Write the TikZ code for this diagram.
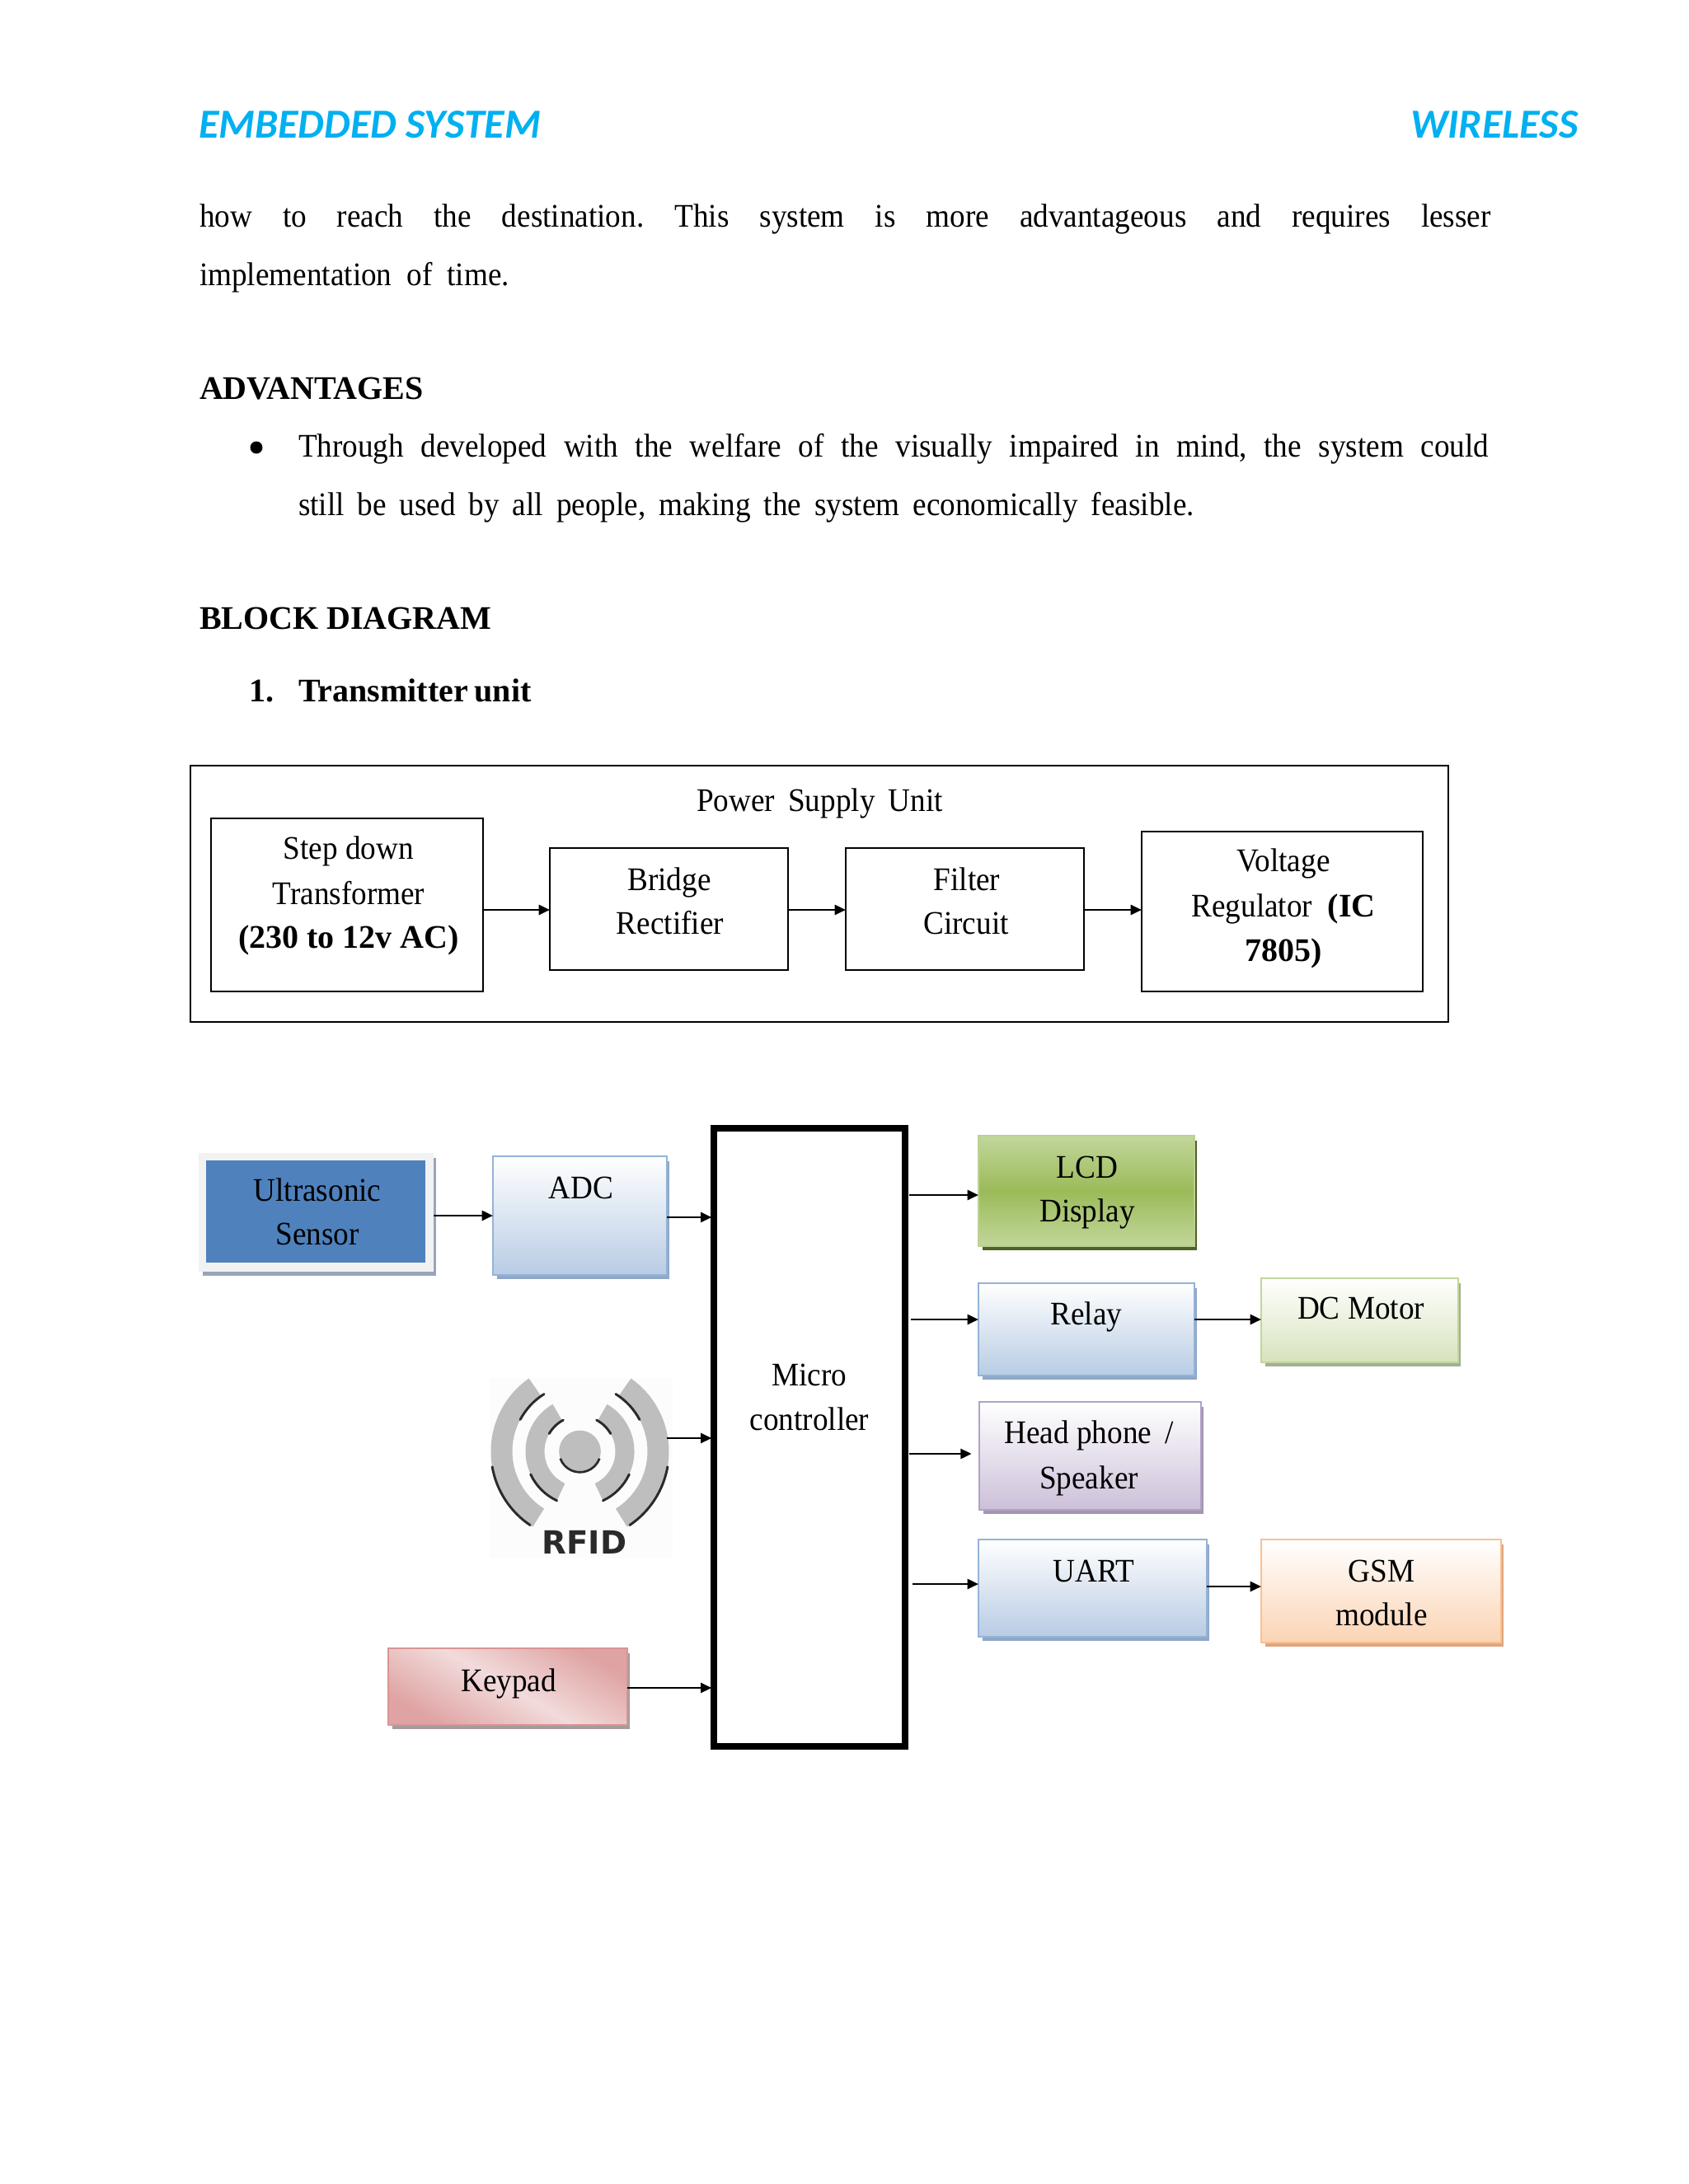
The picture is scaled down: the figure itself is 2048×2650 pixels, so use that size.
\documentclass[tikz,border=0pt]{standalone}
\usepackage{fontspec}
\setmainfont[FakeStretch=0.93,BoldFeatures={FakeStretch=1.0}]{Liberation Serif}
\newfontfamily\hdrfont{Carlito}
\newfontfamily\rfidfont{DejaVu Sans}
\usetikzlibrary{arrows.meta}
\definecolor{hdrcyan}{HTML}{00B0F0}
\definecolor{bluedraw}{HTML}{95B3D7}
\definecolor{bluefill}{HTML}{B8CCE4}
\definecolor{blueshadow}{HTML}{8FA8C8}
\definecolor{sensorblue}{HTML}{4F81BD}
\definecolor{sensorpad}{HTML}{F2F2F2}
\definecolor{sensorshadow}{HTML}{98A5BA}
\definecolor{greenlight}{HTML}{C2D69B}
\definecolor{greenmid}{HTML}{9BBB59}
\definecolor{greenshadow}{HTML}{4F6228}
\definecolor{palegreen}{HTML}{D6E3BC}
\definecolor{palegreenshadow}{HTML}{A3AF92}
\definecolor{violetdraw}{HTML}{B2A1C7}
\definecolor{violetfill}{HTML}{CCC0D9}
\definecolor{violetshadow}{HTML}{A296B2}
\definecolor{orangedraw}{HTML}{FAC090}
\definecolor{orangefill}{HTML}{FBD4B4}
\definecolor{orangeshadow}{HTML}{DDA67E}
\definecolor{pinkdraw}{HTML}{D99594}
\definecolor{pinklight}{HTML}{F2DBDB}
\definecolor{pinkdark}{HTML}{DFA3A3}
\definecolor{pinkshadow}{HTML}{A79A9A}
\definecolor{rfidgray}{HTML}{BEBEBE}
\definecolor{rfiddark}{HTML}{2A2A2A}
\definecolor{rfidbg}{HTML}{FCFCFC}
\tikzset{
  txt/.style={inner sep=0pt,outer sep=0pt,anchor=base,font=\fontsize{30}{36}\selectfont},
  txtw/.style={txt,anchor=base west},
  hdr/.style={inner sep=0pt,outer sep=0pt,anchor=base west,text=hdrcyan,font=\hdrfont\bfseries\itshape\fontsize{37.6}{44}\selectfont},
  plain/.style={draw=black,line width=1.9pt,fill=white},
  frame/.style={draw=black,line width=1.9pt},
  micro/.style={draw=black,line width=6.4pt,fill=white},
  bluebox/.style={draw=bluedraw,line width=2pt,top color=white,bottom color=bluefill},
  lcdbox/.style={draw=greenlight!85!greenmid,line width=2pt,top color=greenlight,bottom color=greenlight,middle color=greenmid},
  dcbox/.style={draw=greenlight,line width=2pt,top color=white,bottom color=palegreen},
  headbox/.style={draw=violetdraw,line width=2pt,top color=white,bottom color=violetfill},
  gsmbox/.style={draw=orangedraw,line width=2pt,top color=white,bottom color=orangefill},
  keybox/.style={draw=pinkdraw,line width=2pt,left color=pinkdark,right color=pinkdark,middle color=pinklight,shading angle=-30},
  conn/.style={draw=black,line width=2pt,-{Triangle[length=10pt,width=9pt]}},
}
% name, x0, y0, x1, y1 in pixels; optional style
\newcommand{\pxbox}[6][]{%
  \pgfmathsetmacro\boxw{(#5-#3)*0.75}%
  \pgfmathsetmacro\boxh{(#6-#4)*0.75}%
  \node[#1,inner sep=0pt,outer sep=0pt,anchor=north west,minimum width=\boxw pt,minimum height=\boxh pt] (#2) at (#3,#4) {};%
}
% shadow: x0,y0,x1,y1,colour
\newcommand{\pxshadow}[5]{\fill[#5] (#1+5,#2+6) rectangle (#3+3,#4+5);}
% annular sector: start,end,inner,outer radius in px
\newcommand{\rfidsector}[4]{%
  \pgfmathsetmacro\ro{#4*0.75}\pgfmathsetmacro\ri{#3*0.75}%
  \fill[rfidgray] ([shift={(#1:\ro pt)}]rfidc) arc[start angle=#1,end angle=#2,radius=\ro pt]
    -- ([shift={(#2:\ri pt)}]rfidc) arc[start angle=#2,end angle=#1,radius=\ri pt] -- cycle;%
}
\newcommand{\rfidedge}[3]{%
  \pgfmathsetmacro\rr{#3*0.75}%
  \draw[rfiddark,line width=2.2pt,line cap=round] ([shift={(#1:\rr pt)}]rfidc) arc[start angle=#1,end angle=#2,radius=\rr pt];%
}
\begin{document}
\frenchspacing
\begin{tikzpicture}[x=0.75pt,y=-0.75pt]
\useasboundingbox (0,0) rectangle (2048,2650);
% page text
\node[hdr] (h1) at (241,168) {EMBEDDED SYSTEM};
\node[hdr] (h2) at (1711,168) {WIRELESS};
\node[txtw] (l1) at (242,276) {\makebox[1175pt][s]{how to reach the destination. This system is more advantageous and requires lesser}};
\node[txtw] (l2) at (242,347) {\makebox[282pt][s]{implementation of time.}};
\node[txtw] (adv) at (242,484) {\textbf{ADVANTAGES}};
\fill (311,543) circle[radius=5.6pt];
\node[txtw] (l3) at (362,554) {\makebox[1083pt][s]{Through developed with the welfare of the visually impaired in mind, the system could}};
\node[txtw] (l4) at (362,625) {\makebox[815pt][s]{still be used by all people, making the system economically feasible.}};
\node[txtw] (blk) at (242,763) {\textbf{BLOCK DIAGRAM}};
\node[txtw] (num) at (302,851) {\textbf{1.}};
\node[txtw] (tu) at (362,851) {\makebox[212pt][s]{\bfseries\addfontfeature{FakeStretch=0.96}Transmitter unit}};
% power supply
\pxbox[frame]{psu}{231}{929}{1757}{1240}
\pxbox[plain]{step}{256}{993}{586}{1203}
\pxbox[plain]{bridge}{667}{1029}{956}{1177}
\pxbox[plain]{filter}{1026}{1029}{1315}{1177}
\pxbox[plain]{volt}{1385}{1009}{1726}{1203}
\coordinate (yp) at (0,1104);
\draw[conn] (step.east |- yp) -- (bridge.west |- yp);
\draw[conn] (bridge.east |- yp) -- (filter.west |- yp);
\draw[conn] (filter.east |- yp) -- (volt.west |- yp);
\node[txt] (tp) at (994.5,984) {\makebox[224pt][s]{Power Supply Unit}};
\node[txt] (t1a) at (423,1042) {Step down};
\node[txt] (t1b) at (423,1097) {Transformer};
\node[txt] (t1c) at (423,1150) {\textbf{(230 to 12v AC)}};
\node[txt] (t2a) at (812,1080) {Bridge};
\node[txt] (t2b) at (813,1133) {Rectifier};
\node[txt] (t3a) at (1173,1080) {Filter};
\node[txt] (t3b) at (1172,1133) {Circuit};
\node[txt] (t4a) at (1557,1057) {Voltage};
\node[txt] (t4b) at (1557,1112) {Regulator \ \textbf{(IC}};
\node[txt] (t4c) at (1557,1166) {\textbf{7805)}};
% shadows
\pxshadow{241}{1399}{526}{1543}{sensorshadow}
\pxshadow{598}{1403}{809}{1547}{blueshadow}
\pxshadow{471}{2000}{761}{2093}{pinkshadow}
\pxshadow{1187}{1378}{1449}{1512}{greenshadow}
\pxshadow{1187}{1557}{1449}{1669}{blueshadow}
\pxshadow{1530}{1551}{1769}{1653}{palegreenshadow}
\pxshadow{1188}{1701}{1457}{1832}{violetshadow}
\pxshadow{1187}{1868}{1464}{1986}{blueshadow}
\pxshadow{1530}{1868}{1821}{1993}{orangeshadow}
% left side
\pxbox[fill=sensorpad]{ultrapad}{241}{1399}{526}{1543}
\pxbox[fill=sensorblue]{ultra}{250}{1408}{516}{1532}
\pxbox[bluebox]{adc}{598}{1403}{809}{1547}
\pxbox[fill=rfidbg]{rfid}{595}{1672}{816}{1891}
\pxbox[keybox]{key}{471}{2000}{761}{2093}
\pxbox[micro]{mcu}{866}{1369}{1098}{2119}
% right side
\pxbox[lcdbox]{lcd}{1187}{1378}{1449}{1512}
\pxbox[bluebox]{relay}{1187}{1557}{1449}{1669}
\pxbox[dcbox]{dc}{1530}{1551}{1769}{1653}
\pxbox[headbox]{head}{1188}{1701}{1457}{1832}
\pxbox[bluebox]{uart}{1187}{1868}{1464}{1986}
\pxbox[gsmbox]{gsm}{1530}{1868}{1821}{1993}
% rfid symbol
\coordinate (rfidc) at (703.5,1761);
\rfidsector{125}{238}{82}{108}
\rfidsector{-58}{55}{82}{108}
\rfidsector{120}{245}{43}{66}
\rfidsector{-65}{60}{43}{66}
\rfidedge{122}{152}{82}
\rfidedge{58}{28}{82}
\rfidedge{190}{236}{108}
\rfidedge{-10}{-56}{108}
\rfidedge{118}{150}{43}
\rfidedge{62}{30}{43}
\rfidedge{205}{245}{66}
\rfidedge{-25}{-65}{66}
\fill[rfidgray] (rfidc) circle[radius=19pt];
\draw[rfiddark,line width=2pt] ([shift={(200:19pt)}]rfidc) arc[start angle=200,end angle=340,radius=19pt];
\node[inner sep=0pt,outer sep=0pt,anchor=base,text=rfiddark,font=\rfidfont\bfseries\fontsize{29}{34}\selectfont] (rfidt) at (709,1885) {RFID};
% connectors
\coordinate (ya) at (0,1475);
\coordinate (yb) at (0,1477);
\coordinate (yc) at (0,1745);
\coordinate (yd) at (0,2048);
\coordinate (ye) at (0,1450);
\coordinate (yf) at (0,1601);
\coordinate (yg) at (0,1764);
\coordinate (yh) at (0,1922);
\coordinate (yi) at (0,1925);
\draw[conn] (ultrapad.east |- ya) -- (adc.west |- ya);
\draw[conn] (adc.east |- yb) -- ([xshift=-2pt]mcu.west |- yb);
\draw[conn,shorten <=-5pt] (rfid.east |- yc) -- ([xshift=-2pt]mcu.west |- yc);
\draw[conn] (key.east |- yd) -- ([xshift=-2pt]mcu.west |- yd);
\draw[conn] ([xshift=3.5pt]mcu.east |- ye) -- (lcd.west |- ye);
\draw[conn] ([xshift=5pt]mcu.east |- yf) -- (relay.west |- yf);
\draw[conn] ([xshift=3.5pt]mcu.east |- yg) -- ([xshift=-7pt]head.west |- yg);
\draw[conn] ([xshift=7pt]mcu.east |- yh) -- (uart.west |- yh);
\draw[conn] (relay.east |- yf) -- (dc.west |- yf);
\draw[conn] (uart.east |- yi) -- (gsm.west |- yi);
% labels
\node[txt] (u1) at (385,1457) {Ultrasonic};
\node[txt] (u2) at (385,1510) {Sensor};
\node[txt] (tadc) at (705,1454) {ADC};
\node[txt] (tkey) at (617,2052) {Keypad};
\node[txt] (m1) at (982,1681) {Micro};
\node[txt] (m2) at (982,1735) {controller};
\node[txt] (tl1) at (1319,1429) {LCD};
\node[txt] (tl2) at (1319,1482) {Display};
\node[txt] (trel) at (1318,1607) {Relay};
\node[txt] (tdc) at (1651,1600) {DC Motor};
\node[txt] (th1) at (1321,1751) {Head phone \,/};
\node[txt] (th2) at (1321,1806) {Speaker};
\node[txt] (tua) at (1327,1919) {UART};
\node[txt] (tg1) at (1676,1919) {GSM};
\node[txt] (tg2) at (1676,1972) {module};
\end{tikzpicture}
\end{document}
